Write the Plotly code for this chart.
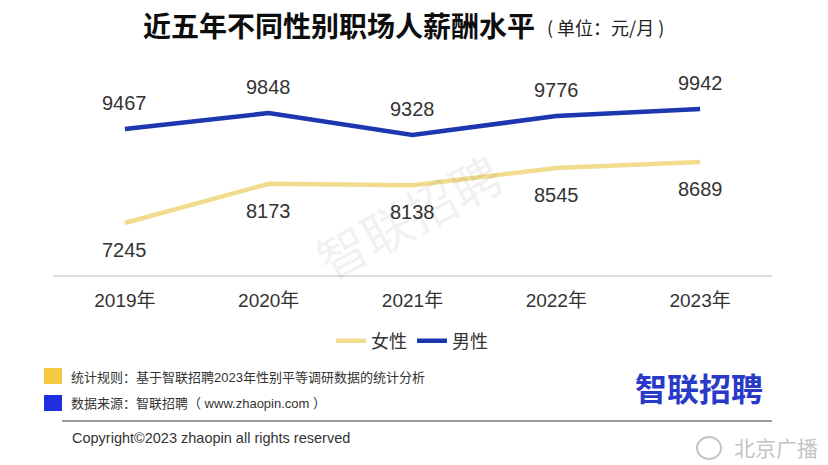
import plotly.graph_objects as go

years = ["2019年", "2020年", "2021年", "2022年", "2023年"]
female = [7245, 8173, 8138, 8545, 8689]
male = [9467, 9848, 9328, 9776, 9942]
series_names = ["女性", "男性"]
title_main = "近五年不同性别职场人薪酬水平"
title_unit = "( 单位：元/月 )"
note_rule = "统计规则：基于智联招聘2023年性别平等调研数据的统计分析"
note_source = "数据来源：智联招聘（ www.zhaopin.com ）"
copyright_text = "Copyright©2023 zhaopin all rights reserved"

W, H = 828, 465
FONT = "Liberation Sans, Arial, Noto Sans CJK SC, sans-serif"
CJK = "Noto Sans CJK SC, sans-serif"
YELLOW = "#f1dc8e"
BLUE = "#1d37b0"

def px(x):
    return x / W

def py(y):
    return 1 - y / H

fig = go.Figure()
fig.add_trace(go.Scatter(x=years, y=female, mode="lines", name=series_names[0],
                         line=dict(color=YELLOW, width=4.5), hoverinfo="skip"))
fig.add_trace(go.Scatter(x=years, y=male, mode="lines", name=series_names[1],
                         line=dict(color=BLUE, width=4.5), hoverinfo="skip"))

ann = []
for xv, yv in zip(years, male):
    ann.append(dict(x=xv, y=yv, xref="x", yref="y", text=str(yv), showarrow=False,
                    yshift=26, font=dict(family=FONT, size=20, color="#333333")))
for xv, yv in zip(years, female):
    ann.append(dict(x=xv, y=yv, xref="x", yref="y", text=str(yv), showarrow=False,
                    yshift=-27, font=dict(family=FONT, size=20, color="#333333")))

# watermark inside chart
ann.append(dict(x=px(408), y=py(215), xref="paper", yref="paper", text="智联招聘",
                showarrow=False, textangle=-28,
                font=dict(family=CJK, size=50, color="rgba(0,0,0,0.055)")))

# title
ann.append(dict(x=px(141), y=py(25), xref="paper", yref="paper", xanchor="left", yanchor="middle",
                text="<b>" + title_main + "</b>", showarrow=False,
                font=dict(family=CJK, size=28, color="#0d0d0d")))
ann.append(dict(x=px(545), y=py(27), xref="paper", yref="paper", xanchor="left", yanchor="middle",
                text=title_unit, showarrow=False,
                font=dict(family=CJK, size=18, color="#222222")))

# notes
ann.append(dict(x=px(69), y=py(377), xref="paper", yref="paper", xanchor="left", yanchor="middle",
                text=note_rule, showarrow=False, font=dict(family=FONT, size=13, color="#333333")))
ann.append(dict(x=px(69), y=py(403), xref="paper", yref="paper", xanchor="left", yanchor="middle",
                text=note_source, showarrow=False, font=dict(family=FONT, size=13, color="#333333")))

# logo
ann.append(dict(x=px(699), y=py(387), xref="paper", yref="paper", xanchor="center", yanchor="middle",
                text="<b>智联招聘</b>", showarrow=False, font=dict(family=CJK, size=32, color="#2a3ac8")))

# copyright
ann.append(dict(x=px(70), y=py(438), xref="paper", yref="paper", xanchor="left", yanchor="middle",
                text=copyright_text, showarrow=False, font=dict(family=FONT, size=14.5, color="#333333")))

# weibo watermark
ann.append(dict(x=px(820), y=py(447), xref="paper", yref="paper", xanchor="right", yanchor="middle",
                text="北京广播", showarrow=False, font=dict(family=CJK, size=21, color="#c4c4c4")))

shapes = [
    dict(type="rect", xref="paper", yref="paper", x0=px(44), x1=px(62), y0=py(384), y1=py(368),
         fillcolor="#f6c945", line=dict(width=0)),
    dict(type="rect", xref="paper", yref="paper", x0=px(44), x1=px(62), y0=py(411), y1=py(395),
         fillcolor="#1f2fe0", line=dict(width=0)),
    dict(type="line", xref="paper", yref="paper", x0=px(62), x1=px(772), y0=py(421), y1=py(421),
         line=dict(color="#9a9a9a", width=2)),
    dict(type="circle", xref="paper", yref="paper", x0=px(697), x1=px(721), y0=py(459), y1=py(437),
         line=dict(color="#c4c4c4", width=2)),
]

fig.update_layout(
    width=W, height=H,
    margin=dict(l=0, r=0, t=0, b=0),
    paper_bgcolor="white", plot_bgcolor="white",
    showlegend=True,
    legend=dict(orientation="h", x=px(412), y=py(341), xanchor="center", yanchor="middle",
                font=dict(family=CJK, size=18, color="#333333"), bgcolor="rgba(0,0,0,0)",
                itemwidth=30),
    xaxis=dict(domain=[px(53), px(772)], range=[-0.5, 4.5], showline=True, linecolor="#dddddd",
               linewidth=2, showgrid=False, zeroline=False, ticks="outside", ticklen=7,
               tickcolor="rgba(0,0,0,0)", tickfont=dict(family=FONT, size=19, color="#333333"),
               fixedrange=True),
    yaxis=dict(domain=[py(275), py(60)], range=[6015, 11101], visible=False, showgrid=False,
               fixedrange=True),
    annotations=ann,
    shapes=shapes,
)

fig.write_html("out.html")
